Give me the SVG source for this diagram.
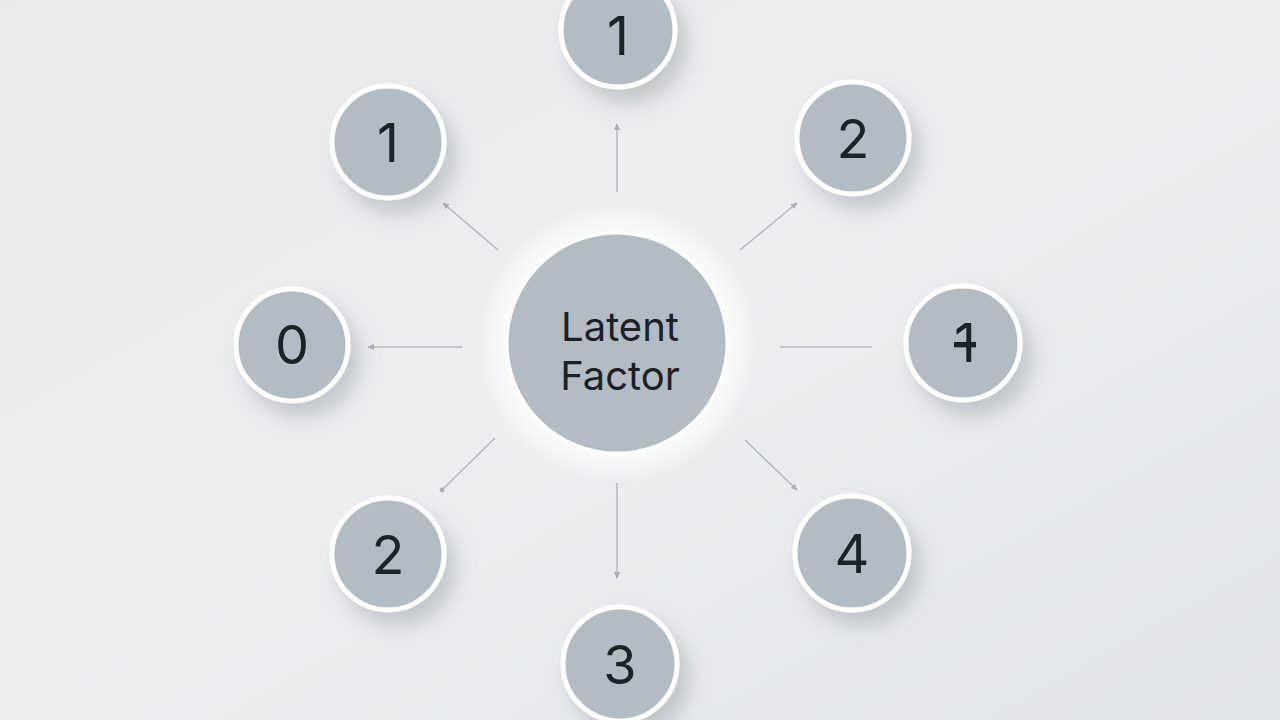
<svg xmlns="http://www.w3.org/2000/svg" width="1280" height="720" viewBox="0 0 1280 720">
<defs>
<linearGradient id="bg" x1="0" y1="0" x2="1" y2="1">
<stop offset="0" stop-color="#e9eaec"/>
<stop offset="0.5" stop-color="#eceef0"/>
<stop offset="1" stop-color="#e2e5e8"/>
</linearGradient>
<radialGradient id="glow" cx="0.5" cy="0.5" r="0.5">
<stop offset="0.7" stop-color="#ffffff" stop-opacity="1"/>
<stop offset="0.85" stop-color="#ffffff" stop-opacity="0.6"/>
<stop offset="1" stop-color="#ffffff" stop-opacity="0"/>
</radialGradient>
<filter id="sh" x="-50%" y="-50%" width="200%" height="200%">
<feDropShadow dx="10" dy="14" stdDeviation="10" flood-color="#7a828c" flood-opacity="0.35"/>
</filter>
<marker id="ah" viewBox="0 0 10 10" refX="8" refY="5" markerWidth="5" markerHeight="5" orient="auto">
<path d="M0,1 L9,5 L0,9 z" fill="#a9b0b8"/>
</marker>
<marker id="dot" viewBox="0 0 10 10" refX="5" refY="5" markerWidth="4" markerHeight="4">
<circle cx="5" cy="5" r="4" fill="#a9b0b8"/>
</marker>
</defs>
<style>
.node{fill:#b3bcc4;stroke:#ffffff;stroke-width:5}
.lbl{font-family:Inter,"Noto Sans","DejaVu Sans",sans-serif;font-size:54px;fill:#1d2125;text-anchor:middle}
.ctr{font-family:Inter,"Noto Sans","DejaVu Sans",sans-serif;font-size:40px;fill:#1d2125;text-anchor:middle}
.con{stroke:#b4bac1;stroke-width:1.5;fill:none}
</style>
<rect width="1280" height="720" fill="url(#bg)"/>
<g id="connectors">
<line class="con" x1="617" y1="192" x2="617" y2="124" marker-end="url(#ah)"/>
<line class="con" x1="498" y1="250" x2="443" y2="203" marker-end="url(#ah)"/>
<line class="con" x1="740" y1="250" x2="797" y2="203" marker-end="url(#ah)"/>
<line class="con" x1="462" y1="347" x2="368" y2="347" marker-end="url(#ah)"/>
<line class="con" x1="780" y1="347" x2="872" y2="347"/>
<line class="con" x1="495" y1="438" x2="442" y2="490" marker-end="url(#dot)"/>
<line class="con" x1="745" y1="440" x2="797" y2="490" marker-end="url(#ah)"/>
<line class="con" x1="617" y1="483" x2="617" y2="578" marker-end="url(#ah)"/>
</g>
<g id="center">
<circle cx="617" cy="343" r="140" fill="url(#glow)"/>
<circle cx="617" cy="343" r="110" fill="#b3bcc4" stroke="#ffffff" stroke-width="3"/>
<text class="ctr" x="620" y="341"><tspan x="620">Latent</tspan><tspan x="620" dy="49">Factor</tspan></text>
</g>
<g id="n-top" filter="url(#sh)">
<circle class="node" cx="618" cy="30" r="57"/>
<text class="lbl" x="618" y="55">1</text>
</g>
<g id="n-topleft" filter="url(#sh)">
<circle class="node" cx="388" cy="142" r="56"/>
<text class="lbl" x="388" y="162">1</text>
</g>
<g id="n-topright" filter="url(#sh)">
<circle class="node" cx="853" cy="138" r="56"/>
<text class="lbl" x="853" y="158">2</text>
</g>
<g id="n-left" filter="url(#sh)">
<circle class="node" cx="292" cy="345" r="56"/>
<text class="lbl" x="292" y="364">0</text>
</g>
<g id="n-right" filter="url(#sh)">
<circle class="node" cx="963" cy="343" r="57"/>
<text class="lbl" x="965" y="362" text-decoration="line-through">1</text>
</g>
<g id="n-bottomleft" filter="url(#sh)">
<circle class="node" cx="388" cy="554" r="56"/>
<text class="lbl" x="388" y="574">2</text>
</g>
<g id="n-bottomright" filter="url(#sh)">
<circle class="node" cx="852" cy="553" r="57"/>
<text class="lbl" x="852" y="573">4</text>
</g>
<g id="n-bottom" filter="url(#sh)">
<circle class="node" cx="620" cy="664" r="57"/>
<text class="lbl" x="620" y="684">3</text>
</g>
</svg>
